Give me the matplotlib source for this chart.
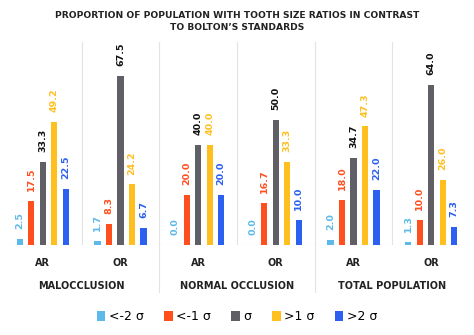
import numpy as np
import matplotlib.pyplot as plt
from matplotlib.patches import Patch
from matplotlib.transforms import blended_transform_factory

# data
groups = ['MALOCCLUSION', 'NORMAL OCCLUSION', 'TOTAL POPULATION']
subcats = ['AR', 'OR', 'AR', 'OR', 'AR', 'OR']
series = ['<-2 σ', '<-1 σ', 'σ', '>1 σ', '>2 σ']
lt_2sd = [2.5, 1.7, 0.0, 0.0, 2.0, 1.3]
lt_1sd = [17.5, 8.3, 20.0, 16.7, 18.0, 10.0]
within = [33.3, 67.5, 40.0, 50.0, 34.7, 64.0]
gt_1sd = [49.2, 24.2, 40.0, 33.3, 47.3, 26.0]
gt_2sd = [22.5, 6.7, 20.0, 10.0, 22.0, 7.3]
values = [lt_2sd, lt_1sd, within, gt_1sd, gt_2sd]

colors = ['#5DB9E9', '#FF4F1F', '#605F66', '#FFBF1F', '#2B60F0']
label_colors = ['#5DB9E9', '#FF4F1F', '#111111', '#FFBF1F', '#2B60F0']

fig = plt.figure(figsize=(4.74, 3.35), dpi=100)
ax = fig.add_axes([4 / 474, 1 - 245 / 335, 466 / 474, 203 / 335])

x = np.arange(len(subcats))
step = 0.148
width = 0.078
for i, (vals, c, lc) in enumerate(zip(values, colors, label_colors)):
    pos = x + (i - 2) * step
    ax.bar(pos, vals, width=width, color=c, zorder=3)
    for px, v in zip(pos, vals):
        ax.annotate('%.1f' % v, (px, v), xytext=(0, 7), textcoords='offset points',
                    rotation=90, ha='center', va='bottom', fontsize=6.8,
                    fontweight='bold', color=lc)

ax.set_xlim(-0.5, 5.5)
ax.set_ylim(0, 81)
for s in ax.spines.values():
    s.set_visible(False)
ax.set_yticks([])
ax.set_xticks(x)
ax.set_xticklabels(subcats, fontsize=7, fontweight='bold', color='#222222')
ax.tick_params(axis='x', length=0, pad=9)

# grid lines
ax.axhline(0, xmin=0.01, xmax=1, color='#d9d9d9', lw=0.8, zorder=2)
for sx in [0.5, 2.5, 4.5]:
    ax.axvline(sx, color='#e3e3e3', lw=0.8, zorder=1)
trans = blended_transform_factory(ax.transData, ax.transAxes)
for sx in [1.5, 3.5]:
    ax.plot([sx, sx], [1, -0.23], color='#e3e3e3', lw=0.8, transform=trans,
            clip_on=False, zorder=1)

for gi, g in enumerate(groups):
    ax.text(2 * gi + 0.5, -0.2, g, transform=trans, ha='center', va='center',
            fontsize=7, fontweight='bold', color='#222222')

fig.text(0.5, 1 - 15 / 335, 'PROPORTION OF POPULATION WITH TOOTH SIZE RATIOS IN CONTRAST',
         ha='center', va='center', fontsize=6.6, fontweight='bold', color='#222222')
fig.text(0.5, 1 - 28 / 335, 'TO BOLTON\u2019S STANDARDS',
         ha='center', va='center', fontsize=6.6, fontweight='bold', color='#222222')

handles = [Patch(facecolor=c, edgecolor='none') for c in colors]
fig.legend(handles, series, loc='center', bbox_to_anchor=(0.5, 1 - 317 / 335),
           ncol=5, frameon=False, fontsize=9, handlelength=0.7, handleheight=0.9,
           handletextpad=0.3, columnspacing=1.6)

fig.savefig('out.png', dpi=100)
